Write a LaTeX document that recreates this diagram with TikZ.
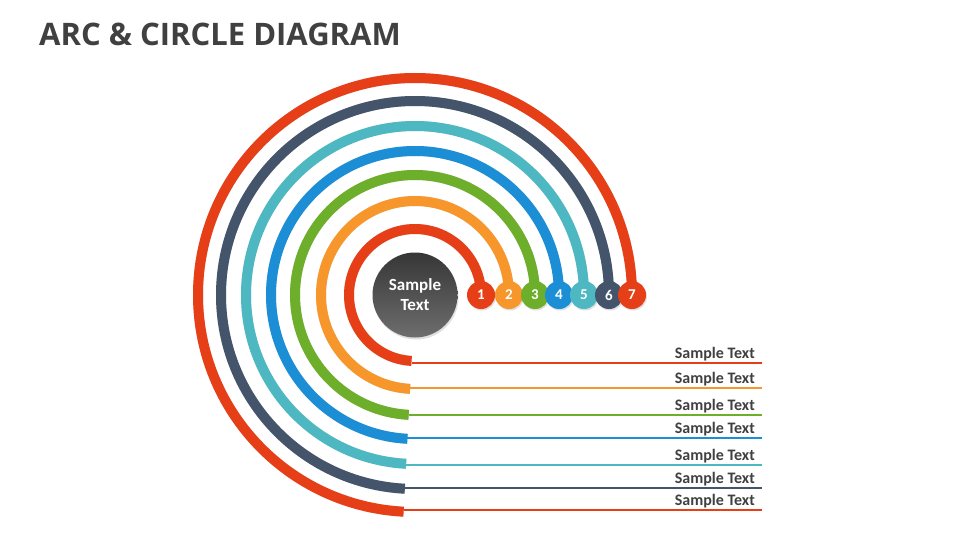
\documentclass[tikz,border=0pt]{standalone}
\usepackage{fontspec}
\setmainfont{Carlito}
\newfontfamily\titlefont{Open Sans}
\usetikzlibrary{calc,shadows}
\definecolor{cRed}{HTML}{E63E17}
\definecolor{cOrange}{HTML}{F7962B}
\definecolor{cGreen}{HTML}{6DAF2B}
\definecolor{cBlue}{HTML}{1B8ED6}
\definecolor{cTeal}{HTML}{4EB8C2}
\definecolor{cNavy}{HTML}{44546A}
\definecolor{txtgray}{HTML}{404040}
\definecolor{ctop}{HTML}{363636}
\definecolor{cbot}{HTML}{6E6E6E}
\tikzset{
  arcline/.style={line width=10pt, line cap=butt},
  arcshadow/.style={line width=10pt, draw=black, opacity=0.12},
  leader/.style={line width=1.1pt},
  numdot/.style={circle, minimum size=28pt, inner sep=0pt, text=white,
    font=\bfseries\fontsize{15}{15}\selectfont,
    drop shadow={shadow xshift=1pt, shadow yshift=-1.5pt, opacity=0.25}},
  label/.style={anchor=base east, inner sep=0pt, text=txtgray,
    font=\bfseries\fontsize{16}{18}\selectfont},
}
\begin{document}
\begin{tikzpicture}[x=1pt,y=-1pt]
\useasboundingbox[fill=white] (0,0) rectangle (960,540);
\node[anchor=base west, inner sep=0pt, text=txtgray,
  font=\titlefont\bfseries\fontsize{31}{36}\selectfont] (title) at (39,46) {ARC \& CIRCLE DIAGRAM};
\coordinate (c) at (415,295);
\foreach \i/\r/\col/\ly in {7/217/cRed/510, 6/194/cNavy/488, 5/169/cTeal/465, 4/144/cBlue/438, 3/120/cGreen/415, 2/94/cOrange/388, 1/66/cRed/363}{
  \draw[arcshadow, shift={(1.5,2.5)}] (c) ++(\r,0) arc[start angle=0, end angle=-267, radius=\r];
  \draw[arcline, draw=\col] (c) ++(\r,0) arc[start angle=0, end angle=-267, radius=\r] coordinate (e\i);
  \coordinate (r\i) at (762,\ly);
  \draw[leader, draw=\col] (e\i |- r\i) -- (r\i);
  \node[label] (t\i) at ([xshift=-7pt, yshift=5pt]r\i) {Sample Text};
}
\node[circle, minimum size=85pt, inner sep=0pt, top color=ctop, bottom color=cbot,
  drop shadow={shadow xshift=1pt, shadow yshift=-2pt, opacity=0.25},
  text=white, align=center, font=\bfseries\fontsize{17}{20}\selectfont] (hub) at (c) {Sample\\Text};
\foreach \i/\r/\col in {1/66/cRed, 2/94/cOrange, 3/120/cGreen, 4/144/cBlue, 5/169/cTeal, 6/194/cNavy, 7/217/cRed}{
  \node[numdot, fill=\col] (n\i) at ($(c)+(\r,0)$) {\i};
}
\end{tikzpicture}
\end{document}
